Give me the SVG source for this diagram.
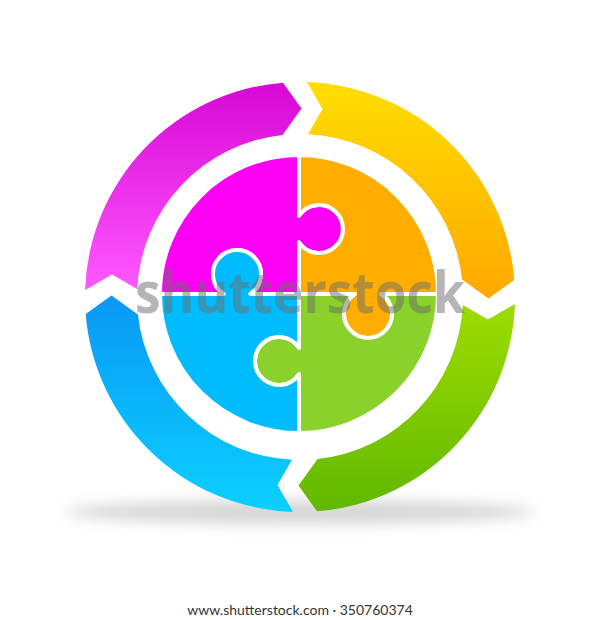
<svg xmlns="http://www.w3.org/2000/svg" width="600" height="620" viewBox="0 0 600 620">
<style>
.piece{stroke:#fff;stroke-width:4;stroke-linejoin:round}
.wm{font-family:"Open Sans","Liberation Sans",sans-serif;font-weight:700;font-size:57px;fill:#6b6b6b;fill-opacity:0.5}
.cap{font-family:Lato,"Liberation Sans",sans-serif;font-size:14px;fill:#333}
</style>
<defs>
<linearGradient id="gM" gradientUnits="userSpaceOnUse" x1="0" y1="85" x2="0" y2="290"><stop offset="0" stop-color="#d808d6"/><stop offset="1" stop-color="#ff58ff"/></linearGradient>
<linearGradient id="gY" gradientUnits="userSpaceOnUse" x1="0" y1="85" x2="0" y2="300"><stop offset="0" stop-color="#ffdd00"/><stop offset="1" stop-color="#ffa700"/></linearGradient>
<linearGradient id="gG" gradientUnits="userSpaceOnUse" x1="0" y1="304" x2="0" y2="512"><stop offset="0" stop-color="#9edc00"/><stop offset="1" stop-color="#60b800"/></linearGradient>
<linearGradient id="gB" gradientUnits="userSpaceOnUse" x1="0" y1="295" x2="0" y2="512"><stop offset="0" stop-color="#0a98f5"/><stop offset="1" stop-color="#0bd0ff"/></linearGradient>
<filter id="blur" x="-20%" y="-300%" width="140%" height="700%"><feGaussianBlur stdDeviation="7"/></filter>
</defs>
<rect width="600" height="620" fill="#fff"/>
<ellipse cx="300" cy="512" rx="235" ry="12" fill="#000" fill-opacity="0.16" filter="url(#blur)"/>
<g id="ring">
<g id="seg-magenta"><path fill="url(#gM)" d="M 85.11,290 A 215 215 0 0 1 283,82.67 L 301.5,108.5 L 282.5,134.94 A 163 163 0 0 0 137.2,289 L 112,274.5 Z"/></g>
<g id="seg-yellow"><path fill="url(#gY)" d="M 307,82.11 A 215 215 0 0 1 514.33,280 L 488.5,298.5 L 462.06,279.5 A 163 163 0 0 0 308,134.2 L 322.5,109 Z"/></g>
<g id="seg-green"><path fill="url(#gG)" d="M 514.89,304 A 215 215 0 0 1 317,511.33 L 298.5,485.5 L 317.5,459.06 A 163 163 0 0 0 462.8,305 L 488,319.5 Z"/></g>
<g id="seg-blue"><path fill="url(#gB)" d="M 293,511.89 A 215 215 0 0 1 85.67,314 L 111.5,295.5 L 137.94,314.5 A 163 163 0 0 0 292,459.8 L 277.5,485 Z"/></g>
</g>
<g id="puzzle">
<g id="piece-magenta"><path class="piece" fill="#fc00f6" d="M 160,294 A 139 139 0 0 1 299,155 L 299,215.73 A 24 24 0 1 1 299,242.27 L 299,294 L 250.27,294 A 24 24 0 1 0 223.73,294 Z"/></g>
<g id="piece-orange"><path class="piece" fill="#ffae00" d="M 299,155 A 139 139 0 0 1 438,294 L 381.27,294 A 24 24 0 1 1 354.73,294 L 299,294 L 299,242.27 A 24 24 0 1 0 299,215.73 Z"/></g>
<g id="piece-green"><path class="piece" fill="#8bd12c" d="M 299,294 L 354.73,294 A 24 24 0 1 0 381.27,294 L 438,294 A 139 139 0 0 1 299,433 L 299,374.27 A 24 24 0 1 1 299,347.73 Z"/></g>
<g id="piece-blue"><path class="piece" fill="#00bcfd" d="M 299,294 L 299,347.73 A 24 24 0 1 0 299,374.27 L 299,433 A 139 139 0 0 1 160,294 L 223.73,294 A 24 24 0 1 1 250.27,294 Z"/></g>
</g>
<g id="connectors"/>
<text class="wm" x="135" y="313" textLength="330" lengthAdjust="spacingAndGlyphs">shutterstock</text>
<text class="cap" x="300" y="615" text-anchor="middle">www.shutterstock.com · 350760374</text>
</svg>
